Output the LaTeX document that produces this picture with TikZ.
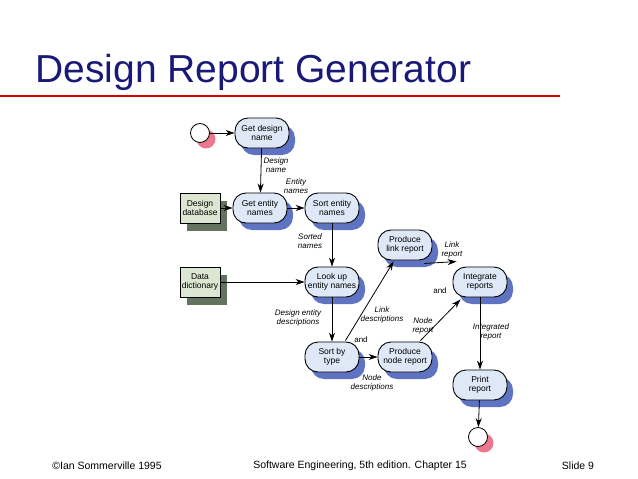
\documentclass[tikz,border=0pt]{standalone}
\usepackage{fontspec}
\setmainfont{Liberation Sans}
\usetikzlibrary{arrows.meta}
\definecolor{shb}{RGB}{95,115,195}
\definecolor{pfill}{RGB}{222,232,246}
\definecolor{sfill}{RGB}{220,230,210}
\definecolor{ssh}{RGB}{100,115,95}
\definecolor{tsh}{RGB}{235,120,140}
\definecolor{ttl}{RGB}{25,25,120}
\begin{document}
\begin{tikzpicture}[x=1pt,y=-1pt,
  proc/.style={draw=black,line width=0.9pt,fill=pfill,rounded corners=13pt,minimum width=54pt,minimum height=30pt,align=center,font=\fontsize{8.5}{9}\selectfont,inner sep=1pt},
  shad/.style={fill=shb,draw=none,rounded corners=13pt,minimum width=54pt,minimum height=30pt},
  store/.style={draw=black,line width=0.7pt,fill=sfill,minimum width=40pt,minimum height=30pt,align=center,font=\fontsize{8.5}{9}\selectfont,inner sep=1pt},
  sshad/.style={fill=ssh,draw=none,minimum width=40pt,minimum height=30pt},
  term/.style={circle,draw=black,line width=0.8pt,fill=white,minimum size=19pt,inner sep=0pt},
  tshad/.style={circle,fill=tsh,draw=none,minimum size=19pt},
  lbl/.style={font=\itshape\fontsize{8}{8.5}\selectfont,align=center},
  arr/.style={-{Stealth[length=9pt,width=6pt]},line width=0.8pt}]
\useasboundingbox (0,0) rectangle (638,479);
\node[font=\fontsize{39}{40}\selectfont,anchor=west,text=ttl] (title) at (32,72) {Design Report Generator};
\draw[red!85!black,line width=2.5pt] (0,96) -- (560,96);
% shadows
\foreach \x/\y in {262/133,260/208,332/208,405/245,332/282,480/282,332/357,405/357,480/385}
  \node[shad] at (\x+6,\y+7) {};
\foreach \x/\y in {200/208,200/282} \node[sshad] at (\x+7,\y+8) {};
\foreach \x/\y in {200/133,478/437} \node[tshad] at (\x+6,\y+6) {};
% nodes
\node[proc] (gdn) at (262,133) {Get design\\name};
\node[proc] (gen) at (260,208) {Get entity\\names};
\node[proc] (sen) at (332,208) {Sort entity\\names};
\node[proc] (plr) at (405,245) {Produce\\link report};
\node[proc] (lue) at (332,282) {Look up\\entity names};
\node[proc] (ir) at (480,282) {Integrate\\reports};
\node[proc] (sbt) at (332,357) {Sort by\\type};
\node[proc] (pnr) at (405,357) {Produce\\node report};
\node[proc] (pr) at (480,385) {Print\\report};
\node[store] (db) at (200,208) {Design\\database};
\node[store] (dd) at (200,282) {Data\\dictionary};
\node[term] (st) at (200,133) {};
\node[term] (en) at (478,437) {};
% arrows
\draw[arr] (st) -- (gdn);
\draw[arr] (gdn) -- (gen);
\draw[arr] (db) -- (gen);
\draw[arr] (gen) -- (sen);
\draw[arr] (sen) -- (lue);
\draw[arr] (dd) -- (lue);
\draw[arr] (lue) -- (sbt);
\draw[arr] ([xshift=-14pt,yshift=1pt]sbt.north east) -- ([xshift=16pt,yshift=-1pt]plr.south west);
\draw[arr] (sbt) -- (pnr);
\draw[arr] ([xshift=-12pt,yshift=1pt]pnr.north east) -- ([xshift=8pt,yshift=-2pt]ir.south west);
\draw[arr] ([xshift=-8pt,yshift=-3pt]plr.south east) -- ([xshift=4pt,yshift=5pt]ir.north west);
\draw[arr] (ir) -- (pr);
\draw[arr] (pr) -- (en);
% labels
\node[lbl] (l1) at (276,165) {Design\\name};
\node[lbl] (l2) at (296,186) {Entity\\names};
\node[lbl] (l3) at (310,241) {Sorted\\names};
\node[lbl] (l4) at (298,318) {Design entity\\descriptions};
\node[lbl] (l5) at (382,315) {Link\\descriptions};
\node[font=\fontsize{8}{8.5}\selectfont] (l6) at (361,340) {and};
\node[lbl] (l7) at (372,383) {Node\\descriptions};
\node[lbl] (l8) at (452,250) {Link\\report};
\node[font=\fontsize{8}{8.5}\selectfont] (l9) at (440,291) {and};
\node[lbl] (l10) at (423,326) {Node\\report};
\node[lbl] (l11) at (491,332) {Integrated\\report};
% footer
\node[font=\fontsize{10.5}{11}\selectfont] (f1) at (107,466) {©Ian Sommerville 1995};
\node[font=\fontsize{10.5}{11}\selectfont] (f2) at (360,466) {Software Engineering, 5th edition. Chapter 15};
\node[font=\fontsize{10.5}{11}\selectfont] (f3) at (578,466) {Slide 9};
\end{tikzpicture}
\end{document}
